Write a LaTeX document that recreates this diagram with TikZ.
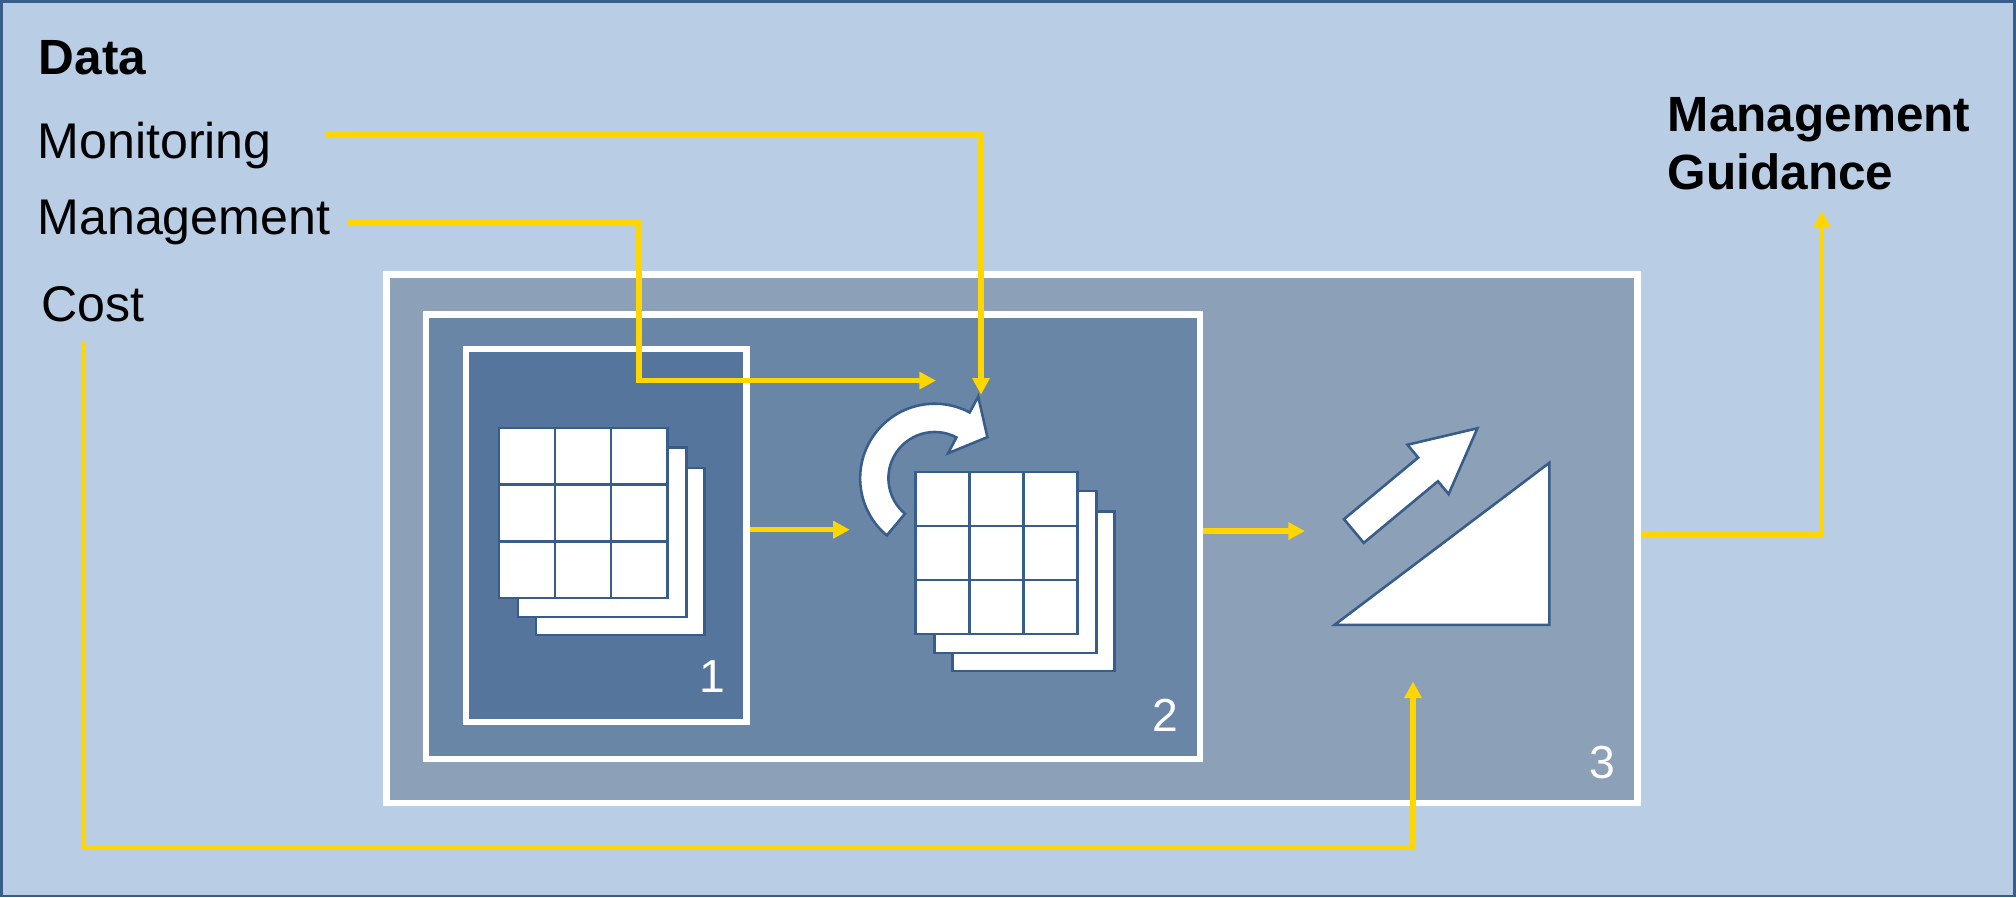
\documentclass[tikz,border=0pt]{standalone}
\usepackage{fontspec}
\setmainfont{Liberation Sans}
\usetikzlibrary{arrows.meta,calc}
\definecolor{bg}{HTML}{B9CDE5}
\definecolor{bd}{HTML}{385D8A}
\definecolor{b3}{HTML}{8CA1B8}
\definecolor{b2}{HTML}{6A86A6}
\definecolor{b1}{HTML}{56759C}
\definecolor{yl}{HTML}{FFD600}
\tikzset{
 box/.style={draw=white,line width=5pt},
 num/.style={text=white,font=\fontsize{36}{40}\selectfont,inner sep=0},
 lab/.style={anchor=west,font=\fontsize{39}{45}\selectfont,inner sep=0},
 blab/.style={anchor=west,font=\fontsize{38.5}{44}\selectfont\bfseries,inner sep=0},
 yline/.style={yl,line width=4pt,-{Triangle[length=13pt,width=13pt]}},
 sheet/.style={fill=white,draw=bd,line width=2pt},
 wshape/.style={fill=white,draw=bd,line width=2pt,line join=miter},
}
\newcommand{\grid}[4]{% x0 y0 x1 y1
 \draw[sheet] (#1+29,#2+31) rectangle (#3+29,#4+29);
 \draw[sheet] (#1+15,#2+15) rectangle (#3+15,#4+15);
 \draw[sheet] (#1,#2) rectangle (#3,#4);
 \draw[bd,line width=2pt] ({#1+(#3-#1)/3},#2) -- ({#1+(#3-#1)/3},#4)
   ({#1+2*(#3-#1)/3},#2) -- ({#1+2*(#3-#1)/3},#4)
   (#1,{#2+(#4-#2)/3}) -- (#3,{#2+(#4-#2)/3})
   (#1,{#2+2*(#4-#2)/3}) -- (#3,{#2+2*(#4-#2)/3});}
\begin{document}
\begin{tikzpicture}[x=1pt,y=-1pt]
\useasboundingbox (0,0) rectangle (1568,698);
\draw[fill=bg,draw=bd,line width=2pt] (1,1) rectangle (1567,697);
\node[box,fill=b3,minimum width=973pt,minimum height=411pt,anchor=north west] (b3) at (298,211) {};
\node[box,fill=b2,minimum width=602pt,minimum height=346pt,anchor=north west] (b2) at (329,242) {};
\node[box,fill=b1,minimum width=218pt,minimum height=290pt,anchor=north west] (b1) at (360,269) {};
\node[num] (n1) at (554,526) {1};
\node[num] (n2) at (906,556) {2};
\node[num] (n3) at (1246,593) {3};
\grid{388}{333}{519}{465}
\grid{712}{367}{838}{493}
% curved arrow
\draw[wshape] (727,372) ++(-230:58) arc[start angle=-230,end angle=-62,radius=58]
  -- ++(-62:14) -- ($(727,372)+(-38:52)$) -- ($(727,372)+(-62:22)$) -- ($(727,372)+(-62:36)$)
  arc[start angle=-62,end angle=-230,radius=36] -- cycle;
% triangle
\draw[wshape] (1038,486) -- (1205,486) -- (1205,360) -- cycle;
% diagonal arrow
\draw[wshape] (1045.3,403.8) -- (1103,355.9) -- (1094.7,345.9) -- (1149.1,333.1) -- (1126.7,384.3) -- (1118.4,374.3) -- (1060.7,422.2) -- cycle;
% texts
\node[blab] (data) at (30,45) {Data};
\node[lab] (mon) at (29,113) {Monitoring};
\node[lab] (man) at (29,173) {Management};
\node[lab] (cost) at (32,237) {Cost};
\node[blab,align=left,font=\fontsize{38.5}{45}\selectfont\bfseries] (mg) at (1297,112) {Management\\Guidance};
% connectors
\coordinate (m1) at (253,105); \coordinate (m2) at (763,307);
\draw[yline] (m1) -| (m2);
\coordinate (g1) at (270,173); \coordinate (g2) at (497,296); \coordinate (g3) at (728,296);
\draw[yline] (g1) -| (g2) -- (g3);
\coordinate (c1) at (65,266); \coordinate (c2) at (65,659); \coordinate (c3) at (1099,530);
\draw[yline] (c1) -- (c2) -| (c3);
\coordinate (a1) at (661,412);
\draw[yline] (b1.east|-a1) -- (a1);
\coordinate (a2) at (1015,413);
\draw[yline] (b2.east|-a2) -- (a2);
\coordinate (a3) at (1417,416); \coordinate (a4) at (1417,164);
\draw[yline] (b3.east|-a3) -- (a3) -- (a4);
\end{tikzpicture}
\end{document}
